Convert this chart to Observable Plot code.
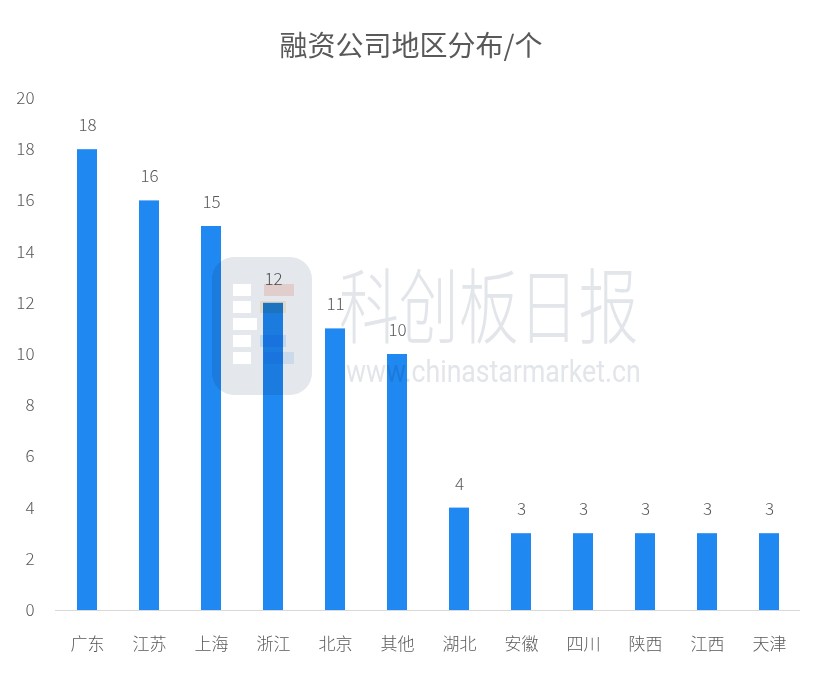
<!DOCTYPE html>
<html>
<head>
<meta charset="utf-8">
<script src="https://cdn.jsdelivr.net/npm/d3@7"></script>
<script src="https://cdn.jsdelivr.net/npm/@observablehq/plot@0.6"></script>
<style>
  html, body { margin: 0; padding: 0; background: #fff; }
  #wrap { position: relative; width: 822px; height: 674px; overflow: hidden; font-family: "Noto Sans CJK SC", "Noto Sans", sans-serif; background: #fff; isolation: isolate; }
  #title { height: 70px; box-sizing: border-box; padding-top: 27px; text-align: center; font-size: 28px; line-height: 34px; color: #595959; font-weight: 400; }
  .wm { position: absolute; pointer-events: none; mix-blend-mode: multiply; }
</style>
</head>
<body>
<div id="wrap">
  <div id="title">融资公司地区分布/个</div>
  <div id="chart"></div>
  <div class="wm" style="left:212px;top:257px;width:100px;height:138px;border-radius:22px;background:#e4e7eb;"></div>
  <div class="wm" style="left:233px;top:284px;width:18px;height:12px;background:#ffffff;mix-blend-mode:normal;"></div>
  <div class="wm" style="left:233px;top:301px;width:18px;height:12px;background:#ffffff;mix-blend-mode:normal;"></div>
  <div class="wm" style="left:233px;top:318px;width:24px;height:12px;background:#ffffff;mix-blend-mode:normal;"></div>
  <div class="wm" style="left:233px;top:335px;width:18px;height:12px;background:#ffffff;mix-blend-mode:normal;"></div>
  <div class="wm" style="left:233px;top:352px;width:18px;height:12px;background:#ffffff;mix-blend-mode:normal;"></div>
  <div class="wm" style="left:264px;top:284px;width:30px;height:12px;background:#fde3df;"></div>
  <div class="wm" style="left:260px;top:301px;width:26px;height:12px;background:#fdf0dc;"></div>
  <div class="wm" style="left:260px;top:335px;width:26px;height:12px;background:#dcefff;"></div>
  <div class="wm" style="left:264px;top:352px;width:30px;height:12px;background:#e3f1ff;"></div>
  <div class="wm" style="left:339px;top:252px;width:320px;font-size:82px;line-height:100px;color:#e2e5e9;font-weight:300;transform:scaleX(0.73);transform-origin:left top;white-space:nowrap;">科创板日报</div>
  <div class="wm" style="left:346px;top:352px;font-family:Roboto, sans-serif;font-size:31px;line-height:40px;color:#e2e5e9;transform:scaleX(0.86);transform-origin:left top;white-space:nowrap;">www.chinastarmarket.cn</div>
</div>
<script>
const regions = ["广东", "江苏", "上海", "浙江", "北京", "其他", "湖北", "安徽", "四川", "陕西", "江西", "天津"];
const counts = [18, 16, 15, 12, 11, 10, 4, 3, 3, 3, 3, 3];
const yTicks = [0, 2, 4, 6, 8, 10, 12, 14, 16, 18, 20];

const data = regions.map((r, i) => ({region: r, count: counts[i]}));

const chart = Plot.plot({
  width: 822,
  height: 604,
  marginLeft: 55,
  marginRight: 22,
  marginTop: 28,
  marginBottom: 64,
  style: {fontFamily: '"Noto Sans CJK SC", "Noto Sans", sans-serif', fontSize: "17px", color: "#595959", background: "transparent", fontWeight: 300},
  x: {domain: regions, paddingInner: 0.68, paddingOuter: 0.34, label: null, tickSize: 0, tickPadding: 27},
  y: {domain: [0, 20], ticks: yTicks, label: null, tickSize: 0, tickPadding: 21},
  marks: [
    Plot.barY(data, {x: "region", y: "count", fill: "#1f88f1"}),
    Plot.ruleY([0], {stroke: "#d9d9d9", strokeWidth: 1}),
    Plot.text(data, {x: "region", y: "count", text: d => String(d.count), dy: -24, fill: "#595959", fontSize: 17})
  ]
});
document.getElementById("chart").appendChild(chart);
</script>
</body>
</html>
